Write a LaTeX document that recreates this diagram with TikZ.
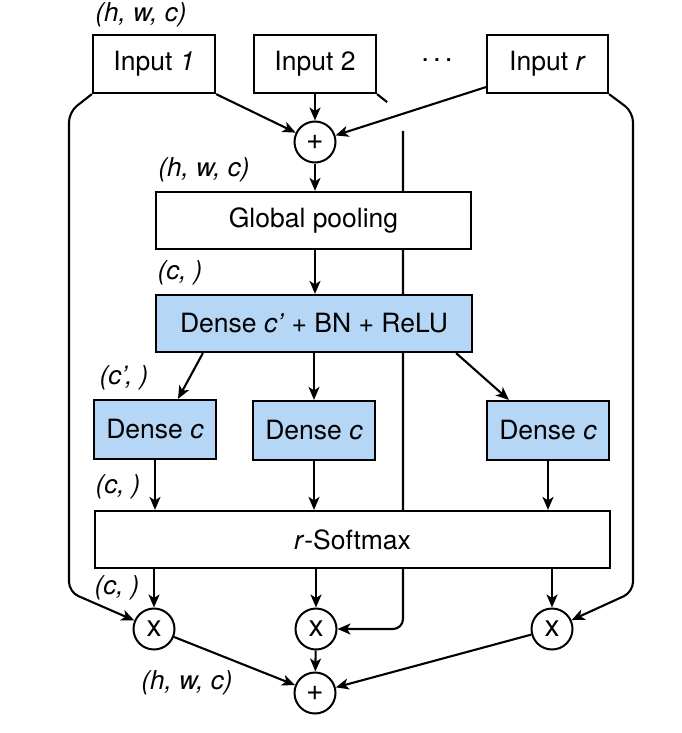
\documentclass[tikz,border=0pt]{standalone}
\usepackage{fontspec}
\setmainfont{TeX Gyre Heros}
\usetikzlibrary{arrows.meta,backgrounds,calc}
\definecolor{blueA}{HTML}{B6D6F6}
\begin{document}
\begin{tikzpicture}[x=1pt,y=-1pt,
  box/.style={draw,line width=2.2pt,fill=white,inner sep=0pt,font=\fontsize{26.5}{31}\selectfont},
  bbox/.style={box,fill=blueA},
  circ/.style={draw,circle,line width=2pt,minimum size=41pt,inner sep=0pt,fill=white,font=\fontsize{30}{34}\selectfont},
  lab/.style={font=\itshape\fontsize{26}{31}\selectfont,inner sep=0pt},
  ln/.style={line width=2.1pt},
  arr/.style={ln,-{Stealth[length=13pt,width=11pt,inset=3.5pt]}}]
\useasboundingbox (0,0) rectangle (681,733);

% input boxes
\node[box,minimum width=122pt,minimum height=58pt] (in1) at (154,64) {Input \textit{1}};
\node[box,minimum width=122pt,minimum height=58pt] (in2) at (315,64) {Input 2};
\node[box,minimum width=121pt,minimum height=58pt] (inr) at (547.5,64) {Input \textit{r}};
\node[font=\fontsize{28}{32}\selectfont] (dots) at (437,60) {.\hspace{4pt}.\hspace{4pt}.};
\node[lab] (l1) at (141,15) {(h, w, c)};

\node[circ] (p1) at (315,142) {+};
\node[lab] (l2) at (204,170) {(h, w, c)};

\node[box,minimum width=315pt,minimum height=57pt] (gp) at (313.5,220.5) {Global pooling};
\node[lab] (l3) at (180,273) {(c,\ )};
\node[bbox,minimum width=316pt,minimum height=57pt] (dcp) at (314,323.5) {Dense \textit{c’} + BN + ReLU};
\node[lab] (l4) at (124,378) {(c’,\ )};

\node[bbox,minimum width=122pt,minimum height=59pt] (dc1) at (155,429.5) {Dense \textit{c}};
\node[bbox,minimum width=122pt,minimum height=59pt] (dc2) at (314,430.5) {Dense \textit{c}};
\node[bbox,minimum width=122pt,minimum height=59pt] (dc3) at (548,430.5) {Dense \textit{c}};
\node[lab] (l5) at (118,487) {(c,\ )};

\node[box,minimum width=515pt,minimum height=57pt] (sm) at (352.5,539.5) {\textit{r}-Softmax};
\node[lab] (l6) at (117,588) {(c,\ )};

\node[circ] (x1) at (154,629) {x};
\node[circ] (x2) at (316,629) {x};
\node[circ] (x3) at (552,629) {x};
\node[lab] (l7) at (187,683) {(h, w, c)};
\node[circ] (p2) at (315,693) {+};

\coordinate (hopA) at ($(in2.south east)+(10,8)$);
\coordinate (hopB) at (403,131);
\coordinate (lc1) at (69,112);
\coordinate (lc2) at (69,592);
\coordinate (rc1) at (633,112);
\coordinate (rc2) at (633,592);
\coordinate (mc) at (403,629);

\begin{scope}[on background layer]
  \fill[white] (0,0) rectangle (681,733);
  \draw[arr,rounded corners=10pt] (hopB) -- (mc) -- (x2);
\end{scope}
\draw[ln] (in2.south east) -- (hopA);

% into first plus
\draw[arr] (in1.south east) -- (p1);
\draw[arr] (in2.south) -- (p1);
\draw[arr] ([yshift=7pt]inr.south west) -- (p1);
\draw[arr] (p1) -- (gp.north -| p1);
\draw[arr] (gp.south -| p1) -- (dcp.north -| p1);

% dense branches
\draw[arr] ([xshift=48pt]dcp.south west) -- ([xshift=23pt]dc1.north);
\draw[arr] (dcp.south -| dc2) -- (dc2.north);
\draw[arr] ([xshift=-17pt]dcp.south east) -- ([xshift=23pt]dc3.north west);

\draw[arr] (dc1.south) -- (dc1.south |- sm.north);
\draw[arr] (dc2.south) -- (dc2.south |- sm.north);
\draw[arr] (dc3.south) -- (dc3.south |- sm.north);

\draw[arr] (sm.south -| x1) -- (x1);
\draw[arr] (sm.south -| x2) -- (x2);
\draw[arr] (sm.south -| x3) -- (x3);

% side paths
\draw[arr,rounded corners=10pt] (in1.south west) -- (lc1) -- (lc2) -- (x1);
\draw[arr,rounded corners=10pt] (inr.south east) -- (rc1) -- (rc2) -- (x3);

% into final plus
\draw[arr] (x1) -- (p2);
\draw[arr] (x2) -- (p2);
\draw[arr] (x3) -- (p2);
\end{tikzpicture}
\end{document}
